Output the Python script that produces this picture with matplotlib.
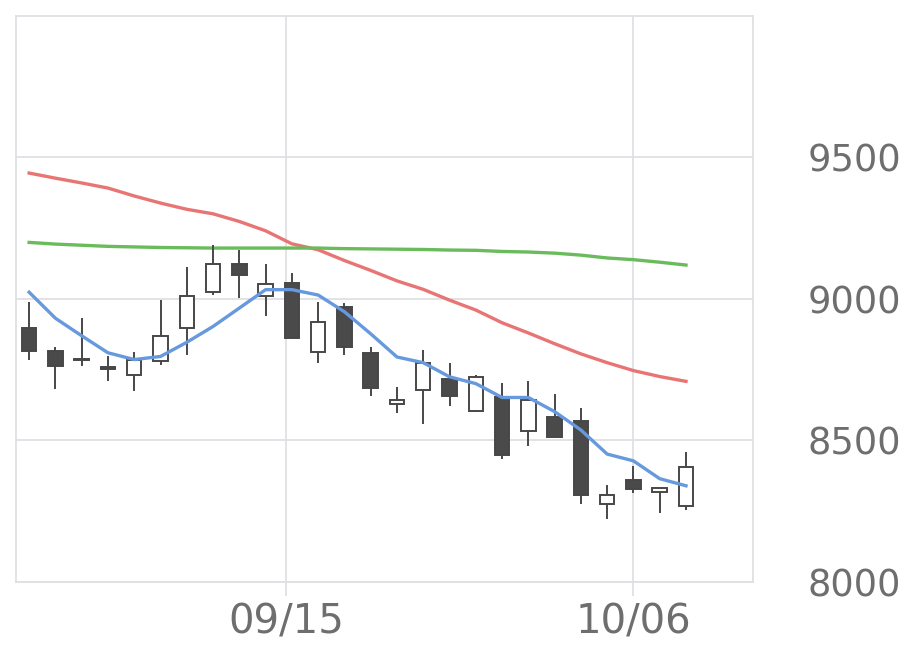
import numpy as np
import matplotlib
matplotlib.use("Agg")
import matplotlib.pyplot as plt

# daily prices (open, high, low, close)
opens = [8897, 8815, 8784, 8759, 8731, 8781, 8899, 9024, 9125, 9012, 9055, 8813, 8973,
         8809, 8628, 8680, 8719, 8606, 8655, 8534, 8584, 8569, 8276, 8362, 8317, 8270]
highs = [8990, 8830, 8932, 8797, 8813, 8998, 9113, 9191, 9173, 9125, 9091, 8990, 8985,
         8830, 8690, 8821, 8774, 8731, 8704, 8709, 8663, 8614, 8344, 8409, 8333, 8461]
lows = [8786, 8681, 8764, 8709, 8674, 8768, 8803, 9015, 9004, 8939, 8863, 8775, 8803,
        8658, 8598, 8557, 8623, 8600, 8434, 8481, 8514, 8276, 8221, 8315, 8245, 8256]
closes = [8815, 8762, 8786, 8754, 8783, 8871, 9012, 9125, 9085, 9053, 8863, 8918, 8832,
          8686, 8642, 8774, 8657, 8724, 8450, 8643, 8514, 8309, 8307, 8327, 8333, 8406]

# moving averages as drawn
ma_short = [9024, 8932, 8870, 8810, 8786, 8797, 8847, 8903, 8968, 9033, 9033, 9014, 8955,
            8877, 8795, 8775, 8725, 8701, 8652, 8652, 8602, 8537, 8452, 8428, 8365, 8340]
ma_mid = [9445, 9427, 9410, 9392, 9364, 9339, 9317, 9301, 9274, 9241, 9195, 9174, 9136,
          9101, 9064, 9034, 8996, 8961, 8916, 8880, 8842, 8806, 8775, 8747, 8726, 8709]
ma_long = [9200, 9194, 9190, 9186, 9184, 9182, 9181, 9180, 9180, 9180, 9180, 9180, 9178,
           9177, 9176, 9175, 9173, 9172, 9168, 9166, 9162, 9155, 9145, 9139, 9130, 9120]

tick_pos = [9.78, 23]
tick_labels = ["09/15", "10/06"]
y_ticks = [8000, 8500, 9000, 9500]

x = np.arange(len(opens))
o = np.array(opens)
c = np.array(closes)
up = c >= o

fig = plt.figure(figsize=(9.2, 6.69), dpi=100)
ax = fig.add_axes([16 / 920, 87 / 669, 737 / 920, 566 / 669])

ax.grid(True, color="#dedee3", linewidth=1.2, zorder=0)
ax.set_axisbelow(True)

ax.plot(x, ma_mid, color="#e87474", linewidth=2.4, zorder=2)
ax.plot(x, ma_long, color="#6abb5c", linewidth=2.4, zorder=2)

ax.vlines(x, lows, highs, color="#474747", linewidth=1.4, zorder=3)
body_bottom = np.minimum(o, c)
body_h = np.maximum(np.abs(c - o), 3)
ax.bar(x[up], body_h[up], bottom=body_bottom[up], width=0.55,
       color="white", edgecolor="#474747", linewidth=1.4, zorder=4)
ax.bar(x[~up], body_h[~up], bottom=body_bottom[~up], width=0.55,
       color="#4a4a4a", edgecolor="#474747", linewidth=1.4, zorder=4)

ax.plot(x, ma_short, color="#6699dd", linewidth=2.4, zorder=5)

ax.set_xlim(-0.5, 27.55)
ax.set_ylim(8000, 10000)
ax.set_xticks(tick_pos)
ax.set_xticklabels(tick_labels)
ax.set_yticks(y_ticks)
ax.yaxis.tick_right()
ax.tick_params(axis="y", length=0, pad=39, labelsize=26.5, labelcolor="#6e6e6e")
ax.tick_params(axis="x", length=10, width=1.2, color="#dedee3", pad=5,
               labelsize=29, labelcolor="#6e6e6e")
for s in ax.spines.values():
    s.set_color("#dedee3")
    s.set_linewidth(1.2)

fig.savefig("out.png", dpi=100)
